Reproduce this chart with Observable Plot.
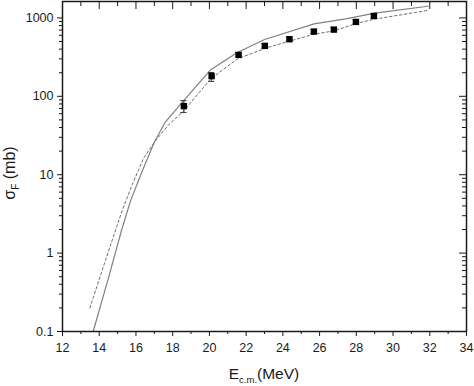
<!DOCTYPE html>
<html><head><meta charset="utf-8">
<script src="https://cdn.jsdelivr.net/npm/d3@7"></script>
<script src="https://cdn.jsdelivr.net/npm/@observablehq/plot@0.6"></script>
<style>body{margin:0;background:#fff} svg{display:block}</style>
</head><body><div id="chart"></div>
<script>
// Experimental fission cross sections
const expE = [18.61, 20.12, 21.59, 23.02, 24.36, 25.69, 26.78, 27.98, 28.96];
const expSigma = [75, 181, 338, 440, 535, 670, 710, 889, 1060];
const expLo = [62, 155, 315, 412, 502, 630, 668, 838, 1000];
const expHi = [88, 201, 362, 468, 568, 710, 752, 940, 1120];
// Calculation 1 (solid)
const solidE = [13.67, 14.5, 15.2, 15.7, 16.3, 17.0, 17.6, 18.6, 20.05, 21.5, 23.0, 25.7, 27.5, 29.0, 32.0];
const solidSigma = [0.1, 0.48, 1.9, 4.6, 10.5, 26, 47, 88, 216, 360, 530, 840, 980, 1150, 1420];
// Calculation 2 (dashed)
const dashE = [13.49, 14.47, 15.25, 15.8, 16.4, 17.0, 17.8, 18.6, 20.06, 21.5, 23.15, 25.69, 26.78, 28.0, 28.96, 31.95];
const dashSigma = [0.2, 1.0, 3.5, 7.5, 16, 26, 44, 65, 166, 298, 419, 620, 683, 850, 962, 1254];
// Axis ticks
const xMajor = [12, 14, 16, 18, 20, 22, 24, 26, 28, 30, 32, 34];
const xMinor = [13, 15, 17, 19, 21, 23, 25, 27, 29, 31, 33];
const yMajor = [0.1, 1, 10, 100, 1000];
const yMinor = [0.2,0.3,0.4,0.5,0.6,0.7,0.8,0.9, 2,3,4,5,6,7,8,9, 20,30,40,50,60,70,80,90, 200,300,400,500,600,700,800,900];
const yMajorLabels = ["0.1", "1", "10", "100", "1000"];

const exp = expE.map((E, i) => ({E, s: expSigma[i], lo: expLo[i], hi: expHi[i]}));
const solid = solidE.map((E, i) => ({E, s: solidSigma[i]}));
const dash = dashE.map((E, i) => ({E, s: dashSigma[i]}));

const W = 474, H = 386, mL = 62, mR = 8, mT = 1, mB = 55;
const pW = W - mL - mR, pH = H - mT - mB;
const ink = "#1a1a1a";

const svg = Plot.plot({
  width: W, height: H, marginLeft: mL, marginRight: mR, marginTop: mT, marginBottom: mB,
  style: {fontFamily: "'Liberation Sans', Arial, sans-serif", fontSize: "12.5px", color: ink, background: "#fff", overflow: "visible"},
  x: {domain: [12, 34]},
  y: {type: "log", domain: [0.1, 1620]},
  marks: [
    Plot.axisX({ticks: xMinor, tickSize: 3, tickFormat: () => "", label: null, stroke: ink}),
    Plot.axisX({ticks: xMajor, tickSize: 5, tickPadding: 7, tickFormat: d => String(d), label: null, stroke: ink}),
    Plot.axisY({ticks: yMinor, tickSize: 3, tickFormat: () => "", label: null, stroke: ink}),
    Plot.axisY({ticks: yMajor, tickSize: 5, tickPadding: 4, tickFormat: d => yMajorLabels[yMajor.indexOf(d)], label: null, stroke: ink}),
    Plot.tickX(xMajor, {x: d => d, insetBottom: pH - 8, stroke: ink}),
    Plot.tickX(xMinor, {x: d => d, insetBottom: pH - 5, stroke: ink}),
    Plot.tickY(yMajor, {y: d => d, insetLeft: pW - 7, stroke: ink}),
    Plot.tickY(yMinor, {y: d => d, insetLeft: pW - 4, stroke: ink}),
    Plot.line(solid, {x: "E", y: "s", stroke: "#808080", strokeWidth: 1.2}),
    Plot.line(dash, {x: "E", y: "s", stroke: "#6e6e6e", strokeWidth: 1, strokeDasharray: "2.5,2.5"}),
    Plot.ruleX(exp, {x: "E", y1: "lo", y2: "hi", stroke: "#333", strokeWidth: 1}),
    Plot.ruleY(exp, {y: "lo", x1: d => d.E - 0.17, x2: d => d.E + 0.17, stroke: "#333", strokeWidth: 1}),
    Plot.ruleY(exp, {y: "hi", x1: d => d.E - 0.17, x2: d => d.E + 0.17, stroke: "#333", strokeWidth: 1}),
    Plot.dot(exp, {x: "E", y: "s", symbol: "square", r: 3.6, fill: "#000", stroke: null}),
    Plot.frame({stroke: ink, strokeWidth: 1.5})
  ]
});

const s = d3.select(svg);
const ylab = s.append("text")
  .attr("transform", `translate(15,173) rotate(-90)`)
  .attr("text-anchor", "middle")
  .attr("font-size", 16)
  .attr("fill", ink);
ylab.append("tspan").text("σ");
ylab.append("tspan").attr("font-size", 10).attr("dy", "0.4em").text("F");
ylab.append("tspan").attr("dy", "-0.25em").text(" (mb)");

const xlab = s.append("text")
  .attr("x", mL + pW / 2)
  .attr("y", 379)
  .attr("text-anchor", "middle")
  .attr("font-size", 15.5)
  .attr("fill", ink);
xlab.append("tspan").text("E");
xlab.append("tspan").attr("font-size", 9.5).attr("dy", "0.45em").text("c.m.");
xlab.append("tspan").attr("dy", "-0.3em").text("(MeV)");

document.getElementById("chart").appendChild(svg);
</script></body></html>
